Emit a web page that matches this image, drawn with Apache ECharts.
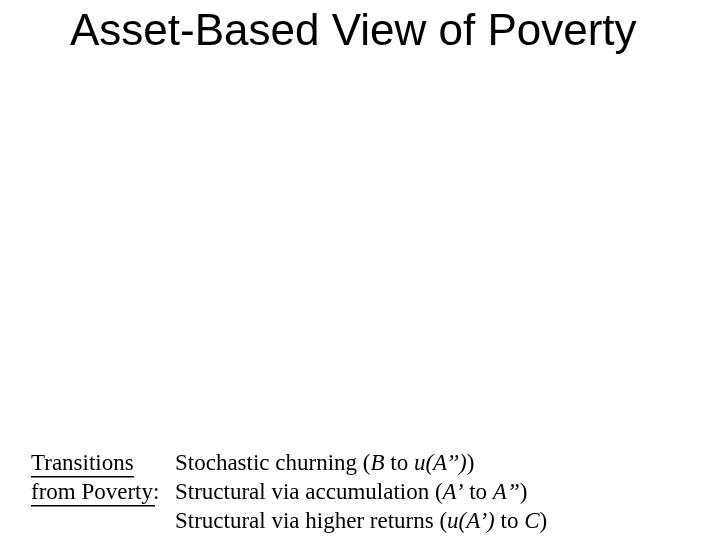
<!DOCTYPE html>
<html><head><meta charset="utf-8">
<script src="https://cdn.jsdelivr.net/npm/echarts@6/dist/echarts.min.js"></script>
<style>html,body{margin:0;padding:0;background:#fff}#c{width:720px;height:540px}</style>
</head><body><div id="c"></div>
<script>
const titleText = 'Asset-Based View of Poverty';
const labelLines = ['Transitions', 'from Poverty'];
const labelSuffix = ['', ':'];
const transitionLines = [
  'Stochastic churning ({it|B} to {it|u(A’’)})',
  'Structural via accumulation ({it|A’} to {it|A”})',
  'Structural via higher returns ({it|u(A’)} to {it|C})'
];

const chart = echarts.init(document.getElementById('c'));
const serif = "'Liberation Serif', 'Times New Roman', serif";
const fs = 23;
const lineY = [452, 481, 510];
const rich = {
  n: {fontFamily: serif, fontSize: fs, fill: '#000'},
  it: {fontFamily: serif, fontSize: fs, fontStyle: 'italic', fill: '#000'}
};
const graphics = [];
labelLines.forEach((t, i) => {
  graphics.push({
    type: 'text', left: 31, top: lineY[i],
    style: {text: t + labelSuffix[i], font: fs + 'px ' + serif, fill: '#000'}
  });
});
transitionLines.forEach((t, i) => {
  graphics.push({
    type: 'text', left: 175, top: lineY[i],
    style: {text: t, font: fs + 'px ' + serif, fill: '#000', rich: rich}
  });
});
graphics.push({type: 'rect', left: 31, top: 476, shape: {width: 103, height: 1.5}, style: {fill: '#000'}});
graphics.push({type: 'rect', left: 31, top: 505, shape: {width: 124, height: 1.5}, style: {fill: '#000'}});

chart.setOption({
  backgroundColor: '#fff',
  title: {
    text: titleText, left: 65, top: 6,
    textStyle: {fontFamily: "'Liberation Sans', Arial, sans-serif", fontSize: 44, fontWeight: 'normal', color: '#000'}
  },
  graphic: graphics,
  series: []
});
</script></body></html>
